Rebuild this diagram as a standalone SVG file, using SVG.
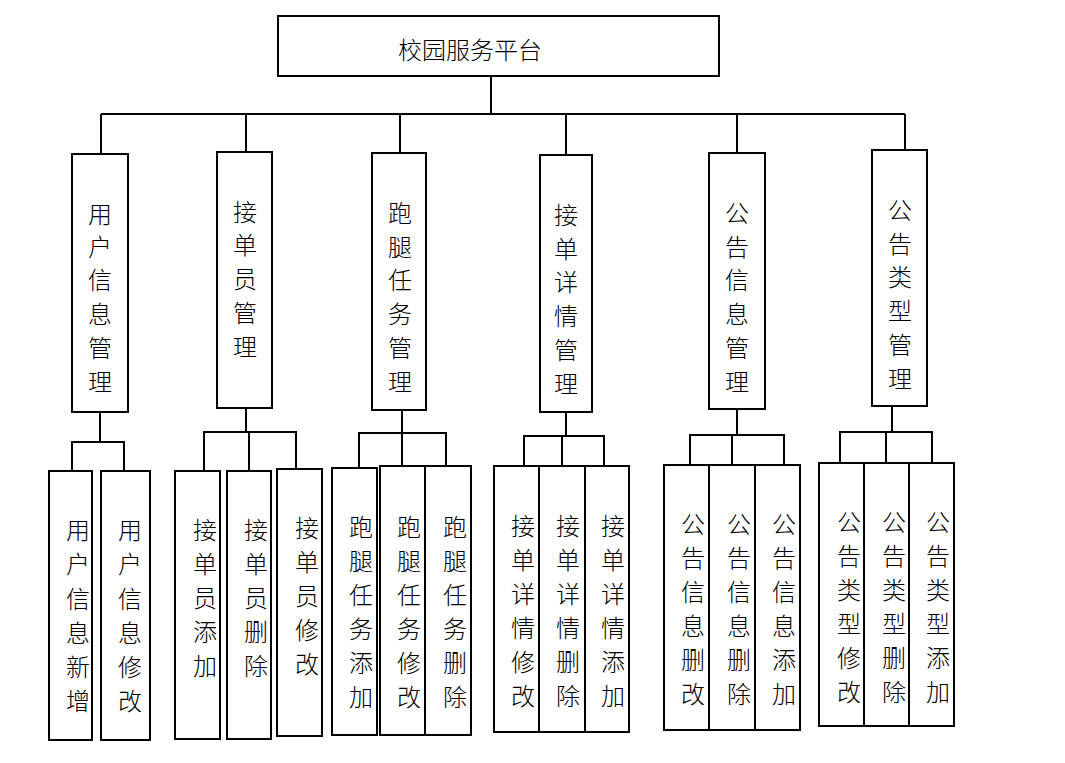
<svg xmlns="http://www.w3.org/2000/svg" width="1065" height="763" viewBox="0 0 1065 763">
<style>
rect{fill:#fff;stroke:#000;stroke-width:2}
.c line,.c polyline{stroke:#000;stroke-width:2;fill:none}
text{font-family:"Noto Sans CJK SC","Liberation Serif",serif;font-size:24px;fill:#000;text-anchor:middle;font-weight:300}
</style>
<rect width="1065" height="763" style="stroke:none"/>
<g class="c">
<line x1="491" y1="76" x2="491" y2="114"/>
<line x1="101" y1="114" x2="905" y2="114"/>
<line x1="101" y1="114" x2="101" y2="154"/>
<line x1="246" y1="114" x2="246" y2="152"/>
<line x1="400" y1="114" x2="400" y2="153"/>
<line x1="566" y1="114" x2="566" y2="155"/>
<line x1="737" y1="114" x2="737" y2="153"/>
<line x1="905" y1="114" x2="905" y2="150"/>
<line x1="100" y1="412" x2="100" y2="442"/>
<polyline points="72,471 72,442 124,442 124,471"/>
<line x1="246" y1="408" x2="246" y2="432"/>
<polyline points="204,471 204,432 296,432 296,469"/>
<line x1="249" y1="432" x2="249" y2="471"/>
<line x1="402" y1="410" x2="402" y2="433"/>
<polyline points="359,468 359,433 446,433 446,466"/>
<line x1="402" y1="433" x2="402" y2="466"/>
<line x1="566" y1="412" x2="566" y2="436"/>
<polyline points="524,466 524,436 604,436 604,466"/>
<line x1="562" y1="436" x2="562" y2="466"/>
<line x1="737" y1="409" x2="737" y2="435"/>
<polyline points="690,465 690,435 784,435 784,465"/>
<line x1="732" y1="435" x2="732" y2="465"/>
<line x1="892" y1="406" x2="892" y2="432"/>
<polyline points="840,463 840,432 932,432 932,463"/>
<line x1="886" y1="432" x2="886" y2="463"/>
</g>
<g id="root"><rect x="278" y="16" width="441" height="60"/><text x="470" y="59">校园服务平台</text></g>
<g id="m1"><rect x="72" y="154" width="56" height="258"/><text x="100"><tspan x="100" y="223">用</tspan><tspan x="100" y="256">户</tspan><tspan x="100" y="289">信</tspan><tspan x="100" y="323">息</tspan><tspan x="100" y="357">管</tspan><tspan x="100" y="391">理</tspan></text></g>
<g id="m2"><rect x="217" y="152" width="55" height="256"/><text><tspan x="245" y="221">接</tspan><tspan x="245" y="254">单</tspan><tspan x="245" y="288">员</tspan><tspan x="245" y="322">管</tspan><tspan x="245" y="356">理</tspan></text></g>
<g id="m3"><rect x="372" y="153" width="54" height="257"/><text><tspan x="400" y="222">跑</tspan><tspan x="400" y="256">腿</tspan><tspan x="400" y="289">任</tspan><tspan x="400" y="323">务</tspan><tspan x="400" y="357">管</tspan><tspan x="400" y="391">理</tspan></text></g>
<g id="m4"><rect x="540" y="155" width="52" height="257"/><text><tspan x="566" y="224">接</tspan><tspan x="566" y="258">单</tspan><tspan x="566" y="291">详</tspan><tspan x="566" y="325">情</tspan><tspan x="566" y="359">管</tspan><tspan x="566" y="393">理</tspan></text></g>
<g id="m5"><rect x="709" y="153" width="56" height="256"/><text><tspan x="737" y="222">公</tspan><tspan x="737" y="256">告</tspan><tspan x="737" y="289">信</tspan><tspan x="737" y="323">息</tspan><tspan x="737" y="357">管</tspan><tspan x="737" y="391">理</tspan></text></g>
<g id="m6"><rect x="872" y="150" width="55" height="256"/><text><tspan x="900" y="219">公</tspan><tspan x="900" y="253">告</tspan><tspan x="900" y="286">类</tspan><tspan x="900" y="320">型</tspan><tspan x="900" y="354">管</tspan><tspan x="900" y="388">理</tspan></text></g>
<g id="b1"><rect x="49" y="471" width="43" height="269"/><text><tspan x="78" y="539">用</tspan><tspan x="78" y="573">户</tspan><tspan x="78" y="608">信</tspan><tspan x="78" y="642">息</tspan><tspan x="78" y="676">新</tspan><tspan x="78" y="710">增</tspan></text></g>
<g id="b2"><rect x="101" y="471" width="49" height="269"/><text><tspan x="130" y="539">用</tspan><tspan x="130" y="573">户</tspan><tspan x="130" y="608">信</tspan><tspan x="130" y="642">息</tspan><tspan x="130" y="676">修</tspan><tspan x="130" y="710">改</tspan></text></g>
<g id="b3"><rect x="175" y="471" width="45" height="268"/><text><tspan x="205" y="539">接</tspan><tspan x="205" y="573">单</tspan><tspan x="205" y="607">员</tspan><tspan x="205" y="641">添</tspan><tspan x="205" y="675">加</tspan></text></g>
<g id="b4"><rect x="227" y="471" width="44" height="268"/><text><tspan x="256" y="539">接</tspan><tspan x="256" y="573">单</tspan><tspan x="256" y="607">员</tspan><tspan x="256" y="641">删</tspan><tspan x="256" y="675">除</tspan></text></g>
<g id="b5"><rect x="277" y="469" width="45" height="267"/><text><tspan x="307" y="537">接</tspan><tspan x="307" y="571">单</tspan><tspan x="307" y="605">员</tspan><tspan x="307" y="639">修</tspan><tspan x="307" y="673">改</tspan></text></g>
<g id="b6"><rect x="332" y="468" width="45" height="267"/><text><tspan x="361" y="536">跑</tspan><tspan x="361" y="570">腿</tspan><tspan x="361" y="604">任</tspan><tspan x="361" y="638">务</tspan><tspan x="361" y="672">添</tspan><tspan x="361" y="706">加</tspan></text></g>
<g id="b7"><rect x="380" y="466" width="45" height="269"/><text><tspan x="409" y="536">跑</tspan><tspan x="409" y="570">腿</tspan><tspan x="409" y="604">任</tspan><tspan x="409" y="638">务</tspan><tspan x="409" y="672">修</tspan><tspan x="409" y="706">改</tspan></text></g>
<g id="b8"><rect x="425" y="466" width="46" height="269"/><text><tspan x="455" y="536">跑</tspan><tspan x="455" y="570">腿</tspan><tspan x="455" y="604">任</tspan><tspan x="455" y="638">务</tspan><tspan x="455" y="672">删</tspan><tspan x="455" y="706">除</tspan></text></g>
<g id="b9"><rect x="494" y="466" width="45" height="266"/><text><tspan x="523" y="535">接</tspan><tspan x="523" y="569">单</tspan><tspan x="523" y="603">详</tspan><tspan x="523" y="637">情</tspan><tspan x="523" y="671">修</tspan><tspan x="523" y="705">改</tspan></text></g>
<g id="b10"><rect x="539" y="466" width="46" height="266"/><text><tspan x="568" y="535">接</tspan><tspan x="568" y="569">单</tspan><tspan x="568" y="603">详</tspan><tspan x="568" y="637">情</tspan><tspan x="568" y="671">删</tspan><tspan x="568" y="705">除</tspan></text></g>
<g id="b11"><rect x="585" y="466" width="44" height="266"/><text><tspan x="613" y="535">接</tspan><tspan x="613" y="569">单</tspan><tspan x="613" y="603">详</tspan><tspan x="613" y="637">情</tspan><tspan x="613" y="671">添</tspan><tspan x="613" y="705">加</tspan></text></g>
<g id="b12"><rect x="664" y="465" width="45" height="265"/><text><tspan x="693" y="533">公</tspan><tspan x="693" y="567">告</tspan><tspan x="693" y="601">信</tspan><tspan x="693" y="635">息</tspan><tspan x="693" y="669">删</tspan><tspan x="693" y="703">改</tspan></text></g>
<g id="b13"><rect x="709" y="465" width="46" height="265"/><text><tspan x="739" y="533">公</tspan><tspan x="739" y="567">告</tspan><tspan x="739" y="601">信</tspan><tspan x="739" y="635">息</tspan><tspan x="739" y="669">删</tspan><tspan x="739" y="703">除</tspan></text></g>
<g id="b14"><rect x="755" y="465" width="45" height="265"/><text><tspan x="784" y="533">公</tspan><tspan x="784" y="567">告</tspan><tspan x="784" y="601">信</tspan><tspan x="784" y="635">息</tspan><tspan x="784" y="669">添</tspan><tspan x="784" y="703">加</tspan></text></g>
<g id="b15"><rect x="819" y="463" width="45" height="263"/><text><tspan x="849" y="531">公</tspan><tspan x="849" y="565">告</tspan><tspan x="849" y="599">类</tspan><tspan x="849" y="633">型</tspan><tspan x="849" y="667">修</tspan><tspan x="849" y="701">改</tspan></text></g>
<g id="b16"><rect x="864" y="463" width="45" height="263"/><text><tspan x="894" y="531">公</tspan><tspan x="894" y="565">告</tspan><tspan x="894" y="599">类</tspan><tspan x="894" y="633">型</tspan><tspan x="894" y="667">删</tspan><tspan x="894" y="701">除</tspan></text></g>
<g id="b17"><rect x="909" y="463" width="45" height="263"/><text><tspan x="938" y="531">公</tspan><tspan x="938" y="565">告</tspan><tspan x="938" y="599">类</tspan><tspan x="938" y="633">型</tspan><tspan x="938" y="667">添</tspan><tspan x="938" y="701">加</tspan></text></g>
</svg>
